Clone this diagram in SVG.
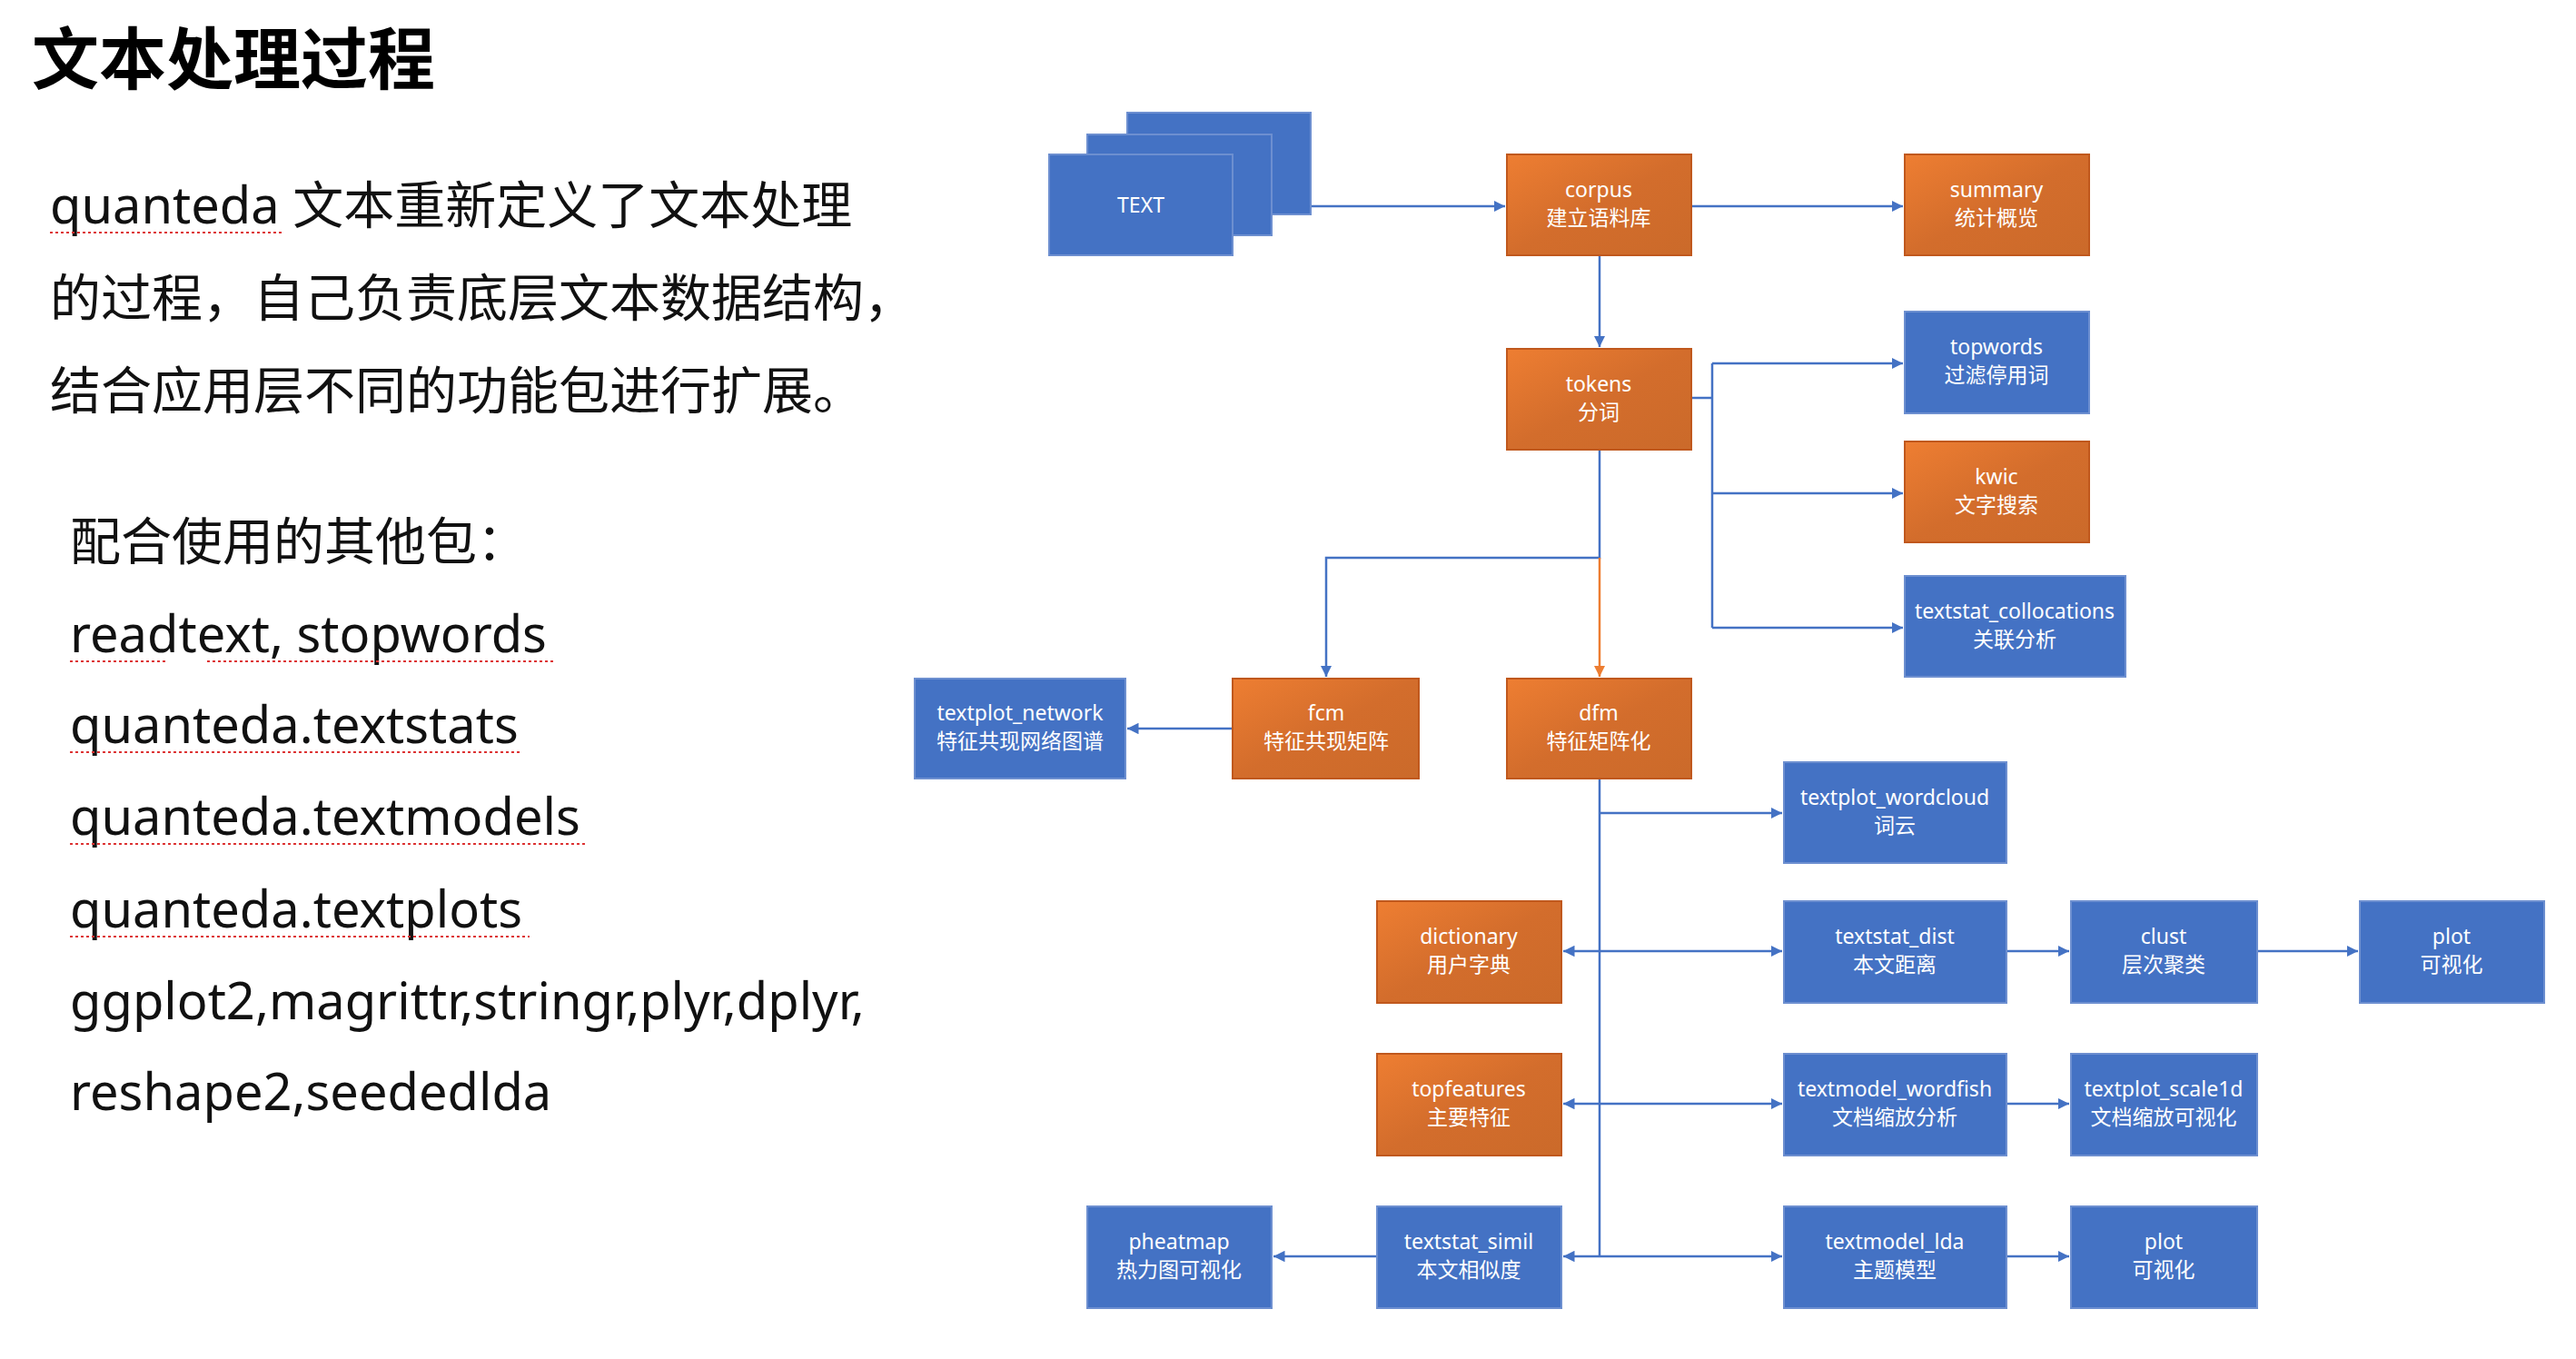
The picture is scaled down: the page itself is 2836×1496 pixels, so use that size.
<svg xmlns="http://www.w3.org/2000/svg" width="2836" height="1496" viewBox="0 0 2836 1496">
<style>
.b{fill:#4472C4;stroke:#6d8fd0;stroke-width:2}
.o{fill:url(#og);stroke:#c0581d;stroke-width:2}
.t{font-family:"Noto Sans","Noto Sans CJK SC",sans-serif;font-size:23px;fill:#fff;text-anchor:middle}
.c{fill:none;stroke:#4472C4;stroke-width:2.5}
.big{font-family:"Noto Sans","Noto Sans CJK SC",sans-serif;font-size:56px;fill:#111}
.sq{fill:none;stroke:#d33;stroke-width:2;stroke-dasharray:3 3}
</style>
<defs>
<linearGradient id="og" x1="0" y1="0" x2="1" y2="1"><stop offset="0" stop-color="#EE7E32"/><stop offset="0.5" stop-color="#D36D2C"/><stop offset="1" stop-color="#CB6A2A"/></linearGradient>
<marker id="a" viewBox="0 0 10 10" refX="10" refY="5" markerWidth="5" markerHeight="5" orient="auto-start-reverse"><path d="M0,0L10,5L0,10z" fill="#4472C4"/></marker>
<marker id="ao" viewBox="0 0 10 10" refX="10" refY="5" markerWidth="5" markerHeight="5" orient="auto"><path d="M0,0L10,5L0,10z" fill="#ED7D31"/></marker>
</defs>
<rect width="2836" height="1496" fill="#fff"/>
<text x="35" y="92" font-family="'Noto Sans CJK SC',sans-serif" font-weight="bold" font-size="74" fill="#000">文本处理过程</text>
<g class="big">
<text x="55" y="246">quanteda 文本重新定义了文本处理</text>
<text x="55" y="348">的过程，自己负责底层文本数据结构，</text>
<text x="55" y="450">结合应用层不同的功能包进行扩展。</text>
<text x="77" y="616">配合使用的其他包：</text>
<text x="77" y="718">readtext, stopwords</text>
<text x="77" y="818">quanteda.textstats</text>
<text x="77" y="919">quanteda.textmodels</text>
<text x="77" y="1021">quanteda.textplots</text>
<text x="77" y="1122">ggplot2,magrittr,stringr,plyr,dplyr,</text>
<text x="77" y="1222">reshape2,seededlda</text>
</g>
<path class="sq" d="M55,256H310M77,728H185M228,728H610M77,828H575M77,929H645M77,1031H583"/>
<g id="connectors">
<path class="c" d="M1443,227H1657" marker-end="url(#a)"/>
<path class="c" d="M1862,227H2095" marker-end="url(#a)"/>
<path class="c" d="M1761,281V382" marker-end="url(#a)"/>
<path class="c" d="M1862,438H1885"/>
<path class="c" d="M1885,400V691"/>
<path class="c" d="M1885,400H2095" marker-end="url(#a)"/>
<path class="c" d="M1885,543H2095" marker-end="url(#a)"/>
<path class="c" d="M1885,691H2095" marker-end="url(#a)"/>
<path class="c" d="M1761,495V614H1460V745" marker-end="url(#a)"/>
<path d="M1761,614V745" fill="none" stroke="#ED7D31" stroke-width="2.5" marker-end="url(#ao)"/>
<path class="c" d="M1357,802H1241" marker-end="url(#a)"/>
<path class="c" d="M1761,857V1383" stroke-width="2"/>
<path class="c" d="M1761,895H1962" marker-end="url(#a)"/>
<path class="c" d="M1721,1047H1962" marker-start="url(#a)" marker-end="url(#a)"/>
<path class="c" d="M2209,1047H2278" marker-end="url(#a)"/>
<path class="c" d="M2485,1047H2596" marker-end="url(#a)"/>
<path class="c" d="M1721,1215H1962" marker-start="url(#a)" marker-end="url(#a)"/>
<path class="c" d="M2209,1215H2278" marker-end="url(#a)"/>
<path class="c" d="M1721,1383H1962" marker-start="url(#a)" marker-end="url(#a)"/>
<path class="c" d="M2209,1383H2278" marker-end="url(#a)"/>
<path class="c" d="M1516,1383H1402" marker-end="url(#a)"/>
</g>
<g id="text"><rect class="b" x="1241" y="124" width="202" height="112"/><rect class="b" x="1197" y="148" width="203" height="111"/><rect class="b" x="1155" y="170" width="202" height="111"/><text class="t" x="1256" y="234">TEXT</text></g>
<g id="corpus"><rect class="o" x="1659" y="170" width="203" height="111"/><text class="t" x="1760" y="217">corpus</text><text class="t" x="1760" y="248">建立语料库</text></g>
<g id="summary"><rect class="o" x="2097" y="170" width="203" height="111"/><text class="t" x="2198" y="217">summary</text><text class="t" x="2198" y="248">统计概览</text></g>
<g id="tokens"><rect class="o" x="1659" y="384" width="203" height="111"/><text class="t" x="1760" y="431">tokens</text><text class="t" x="1760" y="462">分词</text></g>
<g id="topwords"><rect class="b" x="2097" y="343" width="203" height="112"/><text class="t" x="2198" y="390">topwords</text><text class="t" x="2198" y="421">过滤停用词</text></g>
<g id="kwic"><rect class="o" x="2097" y="486" width="203" height="111"/><text class="t" x="2198" y="533">kwic</text><text class="t" x="2198" y="564">文字搜索</text></g>
<g id="collocations"><rect class="b" x="2097" y="634" width="243" height="111"/><text class="t" x="2218" y="681">textstat_collocations</text><text class="t" x="2218" y="712">关联分析</text></g>
<g id="network"><rect class="b" x="1007" y="747" width="232" height="110"/><text class="t" x="1123" y="793">textplot_network</text><text class="t" x="1123" y="824">特征共现网络图谱</text></g>
<g id="fcm"><rect class="o" x="1357" y="747" width="205" height="110"/><text class="t" x="1460" y="793">fcm</text><text class="t" x="1460" y="824">特征共现矩阵</text></g>
<g id="dfm"><rect class="o" x="1659" y="747" width="203" height="110"/><text class="t" x="1760" y="793">dfm</text><text class="t" x="1760" y="824">特征矩阵化</text></g>
<g id="wordcloud"><rect class="b" x="1964" y="839" width="245" height="111"/><text class="t" x="2086" y="886">textplot_wordcloud</text><text class="t" x="2086" y="917">词云</text></g>
<g id="dictionary"><rect class="o" x="1516" y="992" width="203" height="112"/><text class="t" x="1617" y="1039">dictionary</text><text class="t" x="1617" y="1070">用户字典</text></g>
<g id="dist"><rect class="b" x="1964" y="992" width="245" height="112"/><text class="t" x="2086" y="1039">textstat_dist</text><text class="t" x="2086" y="1070">本文距离</text></g>
<g id="clust"><rect class="b" x="2280" y="992" width="205" height="112"/><text class="t" x="2382" y="1039">clust</text><text class="t" x="2382" y="1070">层次聚类</text></g>
<g id="plot1"><rect class="b" x="2598" y="992" width="203" height="112"/><text class="t" x="2699" y="1039">plot</text><text class="t" x="2699" y="1070">可视化</text></g>
<g id="topfeatures"><rect class="o" x="1516" y="1160" width="203" height="112"/><text class="t" x="1617" y="1207">topfeatures</text><text class="t" x="1617" y="1238">主要特征</text></g>
<g id="wordfish"><rect class="b" x="1964" y="1160" width="245" height="112"/><text class="t" x="2086" y="1207">textmodel_wordfish</text><text class="t" x="2086" y="1238">文档缩放分析</text></g>
<g id="scale1d"><rect class="b" x="2280" y="1160" width="205" height="112"/><text class="t" x="2382" y="1207">textplot_scale1d</text><text class="t" x="2382" y="1238">文档缩放可视化</text></g>
<g id="pheatmap"><rect class="b" x="1197" y="1328" width="203" height="112"/><text class="t" x="1298" y="1375">pheatmap</text><text class="t" x="1298" y="1406">热力图可视化</text></g>
<g id="simil"><rect class="b" x="1516" y="1328" width="203" height="112"/><text class="t" x="1617" y="1375">textstat_simil</text><text class="t" x="1617" y="1406">本文相似度</text></g>
<g id="lda"><rect class="b" x="1964" y="1328" width="245" height="112"/><text class="t" x="2086" y="1375">textmodel_lda</text><text class="t" x="2086" y="1406">主题模型</text></g>
<g id="plot2"><rect class="b" x="2280" y="1328" width="205" height="112"/><text class="t" x="2382" y="1375">plot</text><text class="t" x="2382" y="1406">可视化</text></g>
</svg>
